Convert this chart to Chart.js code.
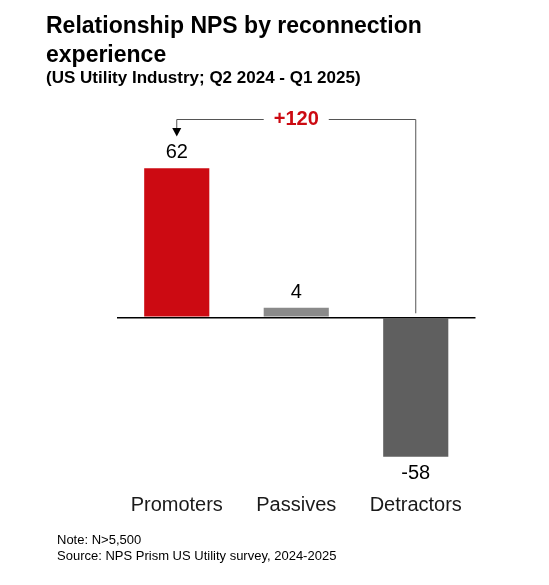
<!DOCTYPE html>
<html>
<head>
<meta charset="utf-8">
<script src="https://cdn.jsdelivr.net/npm/chart.js@4.4.1/dist/chart.umd.min.js"></script>
<style>
  html, body { margin: 0; padding: 0; background: #fff; }
  body { width: 549px; height: 585px; position: relative; overflow: hidden; font-family: 'Liberation Sans', Arial, sans-serif; }
  #wrap { position: absolute; left: 0; top: 0; width: 549px; height: 585px; }
  .title { position: absolute; left: 46px; top: 11px; font-size: 23px; font-weight: bold; line-height: 28.5px; color: #000; }
  .sub { position: absolute; left: 46px; top: 68px; font-size: 17px; font-weight: bold; color: #000; }
  .notes { position: absolute; left: 57px; top: 532px; font-size: 13px; line-height: 16px; color: #000; }
</style>
</head>
<body>
<div id="wrap"><canvas id="npsChart"></canvas></div>
<div class="title">Relationship NPS by reconnection<br>experience</div>
<div class="sub">(US Utility Industry; Q2 2024 - Q1 2025)</div>
<div class="notes">Note: N&gt;5,500<br>Source: NPS Prism US Utility survey, 2024-2025</div>
<script>
// data
const categories = ['Promoters', 'Passives', 'Detractors'];
const npsValues = [62, 4, -58];
const barColors = ['#cc0a12', '#8a8a8a', '#5f5f5f'];

// value labels above / below bars
const valueLabels = {
    id: 'valueLabels',
    afterDatasetsDraw(chart) {
        const ctx = chart.ctx;
        const meta = chart.getDatasetMeta(0);
        ctx.save();
        ctx.font = '20px "Liberation Sans", Arial, sans-serif';
        ctx.fillStyle = '#000';
        ctx.textAlign = 'center';
        ctx.textBaseline = 'middle';
        meta.data.forEach((bar, i) => {
            const v = npsValues[i];
            const y = v >= 0 ? bar.y - 15.5 : bar.y + 16.5;
            ctx.fillText(String(v), bar.x, y);
        });
        ctx.restore();
    }
};

// bracket + arrow showing the promoter/detractor spread
const spreadBracket = {
    id: 'spreadBracket',
    afterDatasetsDraw(chart) {
        const ctx = chart.ctx;
        const xs = chart.scales.x;
        const ys = chart.scales.y;
        const x1 = xs.getPixelForValue(0);
        const x2 = xs.getPixelForValue(2);
        const zero = ys.getPixelForValue(0);
        const lineY = 119.5;
        const label = '+' + (npsValues[0] - npsValues[2]);

        ctx.save();
        ctx.font = 'bold 20px "Liberation Sans", Arial, sans-serif';
        const tw = ctx.measureText(label).width;
        const mid = (x1 + x2) / 2;
        const gapL = mid - tw / 2 - 10;
        const gapR = mid + tw / 2 + 10;

        ctx.strokeStyle = '#555';
        ctx.lineWidth = 1;
        ctx.beginPath();
        ctx.moveTo(x1, 129);
        ctx.lineTo(x1, lineY);
        ctx.lineTo(gapL, lineY);
        ctx.moveTo(gapR, lineY);
        ctx.lineTo(x2, lineY);
        ctx.lineTo(x2, zero - 4);
        ctx.stroke();

        // arrow head
        ctx.fillStyle = '#000';
        ctx.beginPath();
        ctx.moveTo(x1 - 4.5, 128);
        ctx.lineTo(x1 + 4.5, 128);
        ctx.lineTo(x1, 136.5);
        ctx.closePath();
        ctx.fill();

        ctx.fillStyle = '#cc0a12';
        ctx.textAlign = 'center';
        ctx.textBaseline = 'middle';
        ctx.fillText(label, mid, lineY);
        ctx.restore();
    }
};

new Chart(document.getElementById('npsChart'), {
    type: 'bar',
    data: {
        labels: categories,
        datasets: [{
            data: npsValues,
            backgroundColor: barColors,
            borderWidth: 0,
            barPercentage: 0.545,
            categoryPercentage: 1.0
        }]
    },
    options: {
        responsive: true,
        maintainAspectRatio: false,
        animation: false,
        devicePixelRatio: 1,
        layout: { padding: { left: 117, right: 73.5, top: 125, bottom: 59.5 } },
        plugins: {
            legend: { display: false },
            tooltip: { enabled: false }
        },
        scales: {
            x: {
                grid: { display: false, drawTicks: false, tickLength: 0 },
                border: { display: false },
                ticks: {
                    color: '#1a1a1a',
                    padding: 8,
                    font: { family: '"Liberation Sans", Arial, sans-serif', size: 20 }
                }
            },
            y: {
                min: -70,
                max: 80,
                ticks: { display: false, stepSize: 10 },
                border: { display: false },
                grid: {
                    drawTicks: false,
                    lineWidth: 1.5,
                    color: c => (c.tick && c.tick.value === 0 ? '#000' : 'rgba(0,0,0,0)')
                }
            }
        }
    },
    plugins: [valueLabels, spreadBracket]
});
</script>
</body>
</html>
